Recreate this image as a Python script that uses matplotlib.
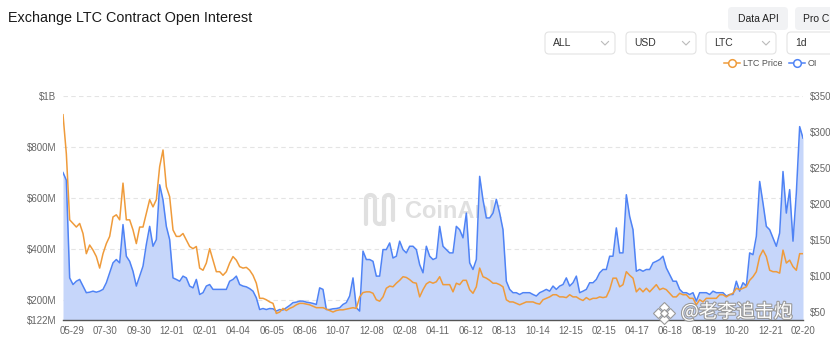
import numpy as np
import pandas as pd
import matplotlib
matplotlib.use("Agg")
import matplotlib.pyplot as plt
from matplotlib.patches import FancyBboxPatch
from matplotlib.lines import Line2D
import matplotlib.patheffects as pe

plt.rcParams['font.family'] = ['Liberation Sans', 'DejaVu Sans']

# ---------------- data ----------------
start_date = "2021-05-12"
end_date = "2025-02-20"

# Open interest, millions of USD
oi_musd = [
    700, 670, 287, 261, 274, 281, 255, 229, 231, 235, 231, 235, 242, 268, 307, 346, 359, 346, 496, 372,
    352, 313, 255, 294, 333, 418, 489, 411, 437, 652, 593, 489, 437, 287, 281, 274, 294, 287, 255, 248,
    281, 222, 229, 255, 261, 242, 242, 242, 242, 242, 274, 281, 294, 261, 255,
    252, 245, 235, 209, 163, 167, 163, 167, 166, 157, 163, 161, 170, 179, 190, 192, 196, 196, 192, 190,
    187, 183, 248, 242, 163, 163, 166, 167, 170, 183, 190, 216, 287, 170, 157, 392, 359, 359, 352, 294,
    294, 398, 398, 424, 365, 372, 431, 398, 385, 411, 411, 398, 339, 307, 411,
    372, 359, 365, 489, 411, 398, 385, 385, 489, 476, 444, 541, 346, 320, 359, 685, 593, 522, 522, 541,
    595, 541, 476, 274, 242, 229, 229, 222, 229, 229, 229, 222, 216, 229, 235, 242, 235, 255, 242, 255,
    261, 287, 255, 268, 294, 229, 235, 242, 268, 268, 281, 307, 320, 320, 372, 372,
    483, 385, 385, 613, 528, 476, 313, 320, 313, 320, 320, 346, 352, 359, 372, 326, 300, 274, 274, 242,
    229, 229, 222, 229, 196, 229, 229, 229, 222, 235, 229, 229, 229, 216, 222, 222, 274, 235, 268, 255,
    385, 378, 450, 665, 580, 489, 476, 444, 411, 463, 704, 541, 633, 431, 620, 880, 835,
]

# LTC price, USD
ltc_price = [
    324, 270, 178, 173, 168, 173, 159, 131, 143, 136, 127, 111, 131, 145, 155, 182, 185, 178, 229, 178,
    178, 164, 145, 168, 168, 187, 206, 196, 206, 252, 275, 224, 210, 164, 155, 155, 159, 150, 141, 138,
    141, 111, 108, 118, 138, 122, 106, 106, 101, 106, 118, 127, 122, 113, 111,
    112, 108, 101, 90, 69, 69, 67, 64, 62, 48, 50, 55, 52, 55, 57, 60, 62, 62, 61, 60,
    58, 56, 56, 56, 54, 52, 50, 52, 53, 53, 54, 55, 56, 55, 71, 77, 78, 78, 76, 67,
    65, 71, 83, 86, 85, 90, 94, 99, 98, 95, 91, 90, 71, 81, 89,
    92, 90, 92, 99, 88, 88, 88, 78, 90, 88, 94, 94, 81, 76, 85, 111, 99, 97, 94, 90,
    90, 88, 85, 67, 64, 64, 62, 60, 62, 64, 64, 64, 62, 61, 67, 69, 71, 74, 74, 71,
    71, 70, 74, 71, 71, 68, 66, 70, 67, 69, 69, 71, 70, 71, 81, 97,
    97, 85, 88, 106, 101, 97, 78, 83, 78, 83, 78, 83, 88, 81, 83, 81, 76, 71, 71, 76,
    74, 74, 69, 69, 60, 67, 64, 69, 69, 69, 69, 74, 74, 71, 74, 76, 83, 81, 83, 85,
    94, 99, 106, 127, 136, 127, 108, 106, 106, 104, 136, 118, 122, 113, 108, 131, 131,
]

x_tick_dates = [
    "2021-05-29", "2021-07-30", "2021-09-30", "2021-12-01", "2022-02-01", "2022-04-04",
    "2022-06-05", "2022-08-06", "2022-10-07", "2022-12-08", "2023-02-08", "2023-04-11",
    "2023-06-12", "2023-08-13", "2023-10-14", "2023-12-15", "2024-02-15", "2024-04-17",
    "2024-06-18", "2024-08-19", "2024-10-20", "2024-12-21", "2025-02-20",
]
x_tick_labels = [d[5:] for d in x_tick_dates]

left_ticks = [122, 200, 400, 600, 800, 1000]
left_labels = ["$122M", "$200M", "$400M", "$600M", "$800M", "$1B"]
right_ticks = [50, 100, 150, 200, 250, 300, 350]
right_labels = ["$50", "$100", "$150", "$200", "$250", "$300", "$350"]

dates = pd.date_range(start_date, end_date, periods=len(oi_musd))

# ---------------- styling ----------------
W, H = 830, 338
BLUE = '#4f83f5'
FILL = '#c6d6fa'
ORANGE = '#ef9b3b'
TICK = '#666666'

fig = plt.figure(figsize=(W / 100, H / 100), dpi=100)
fig.patch.set_facecolor('white')

# overlay in pixel coordinates for UI chrome
ov = fig.add_axes([0, 0, 1, 1])
ov.set_xlim(0, W)
ov.set_ylim(H, 0)
ov.axis('off')

# main chart axes
ax = fig.add_axes([63 / W, 18 / H, 740 / W, 224 / H])
ax.set_facecolor('none')
ax.fill_between(dates, oi_musd, left_ticks[0], color=FILL, lw=0, zorder=1)
ax.plot(dates, oi_musd, color=BLUE, lw=1.1, zorder=2)
ax.set_ylim(122, 1000)
ax.set_xlim(dates[0], dates[-1])
ax.set_yticks(left_ticks, left_labels)
ax.set_xticks(pd.to_datetime(x_tick_dates), x_tick_labels)
ax.tick_params(axis='both', length=0, labelsize=7, colors=TICK)
ax.tick_params(axis='y', pad=5)
ax.tick_params(axis='x', pad=4)
for s in ['top', 'left', 'right']:
    ax.spines[s].set_visible(False)
ax.spines['bottom'].set_color('#555555')
ax.spines['bottom'].set_linewidth(1.0)
ax.spines['bottom'].set_zorder(5)
ax.yaxis.grid(True, color='#e4e4e4', lw=0.8, linestyle=(0, (4, 3)), zorder=0)
ax.set_axisbelow(True)

# faint CoinAnk watermark (logo + word) under the data
t = np.linspace(0, np.pi, 20)
logo_x, logo_y = [], []
cols = [366, 375, 384, 393]
for i, cx in enumerate(cols):
    top, bot = (199, 224) if i % 2 == 0 else (203, 220)
    if i % 2 == 0:
        logo_x += [cx, cx]; logo_y += [bot, top]
        if i + 1 < len(cols):
            logo_x += list(cx + 4.5 - 4.5 * np.cos(t)); logo_y += list(top - 4 * np.sin(t))
    else:
        logo_x += [cx, cx]; logo_y += [top, bot]
        if i + 1 < len(cols):
            logo_x += list(cx + 4.5 - 4.5 * np.cos(t)); logo_y += list(bot + 4 * np.sin(t))
ax.plot(logo_x, logo_y, transform=ov.transData, color='#e0e0e0', lw=3,
        solid_capstyle='round', zorder=0.5)
ax.text(405, 211, "CoinAnk", transform=ov.transData, fontsize=17, fontweight='bold',
        color='#e0e0e0', va='center', ha='left', zorder=0.5)

ax2 = ax.twinx()
ax2.plot(dates, ltc_price, color=ORANGE, lw=1.1, zorder=3)
ax2.set_ylim(38.9, 350)
ax2.set_yticks(right_ticks, right_labels)
ax2.tick_params(axis='y', length=0, labelsize=7, colors=TICK, pad=5)
for s in ['top', 'left', 'right', 'bottom']:
    ax2.spines[s].set_visible(False)

# ---------------- header chrome ----------------
ov.text(7.5, 18, "Exchange LTC Contract Open Interest", fontsize=10.4, color='#1a1a1a',
        va='center', ha='left')

for x0, w, label, tx in [(728, 60, "Data API", 758), (795, 60, "Pro C", 803)]:
    ov.add_patch(FancyBboxPatch((x0, 7), w, 23, boxstyle="round,pad=0,rounding_size=4",
                                fc='#f1f2f4', ec='none'))
    ov.text(tx, 18.5, label, fontsize=7.5, color='#222222', va='center',
            ha='center' if label == "Data API" else 'left')

for x0, label in [(545, "ALL"), (626, "USD"), (706, "LTC"), (787, "1d")]:
    ov.add_patch(FancyBboxPatch((x0, 32), 70, 22, boxstyle="round,pad=0,rounding_size=4",
                                fc='white', ec='#e3e3e3', lw=0.8))
    ov.text(x0 + 8, 43.5, label, fontsize=7.5, color='#333333', va='center', ha='left')
    cx = x0 + 60
    ov.add_line(Line2D([cx - 3.5, cx, cx + 3.5], [41.5, 45, 41.5], color='#bbbbbb', lw=0.8))

# legend
for x0, color, label in [(724, ORANGE, "LTC Price"), (789, BLUE, "OI")]:
    ov.add_line(Line2D([x0, x0 + 16], [63, 63], color=color, lw=1.1))
    ov.plot([x0 + 8], [63], marker='o', ms=5.5, mfc='white', mec=color, mew=1.1)
    ov.text(x0 + 19, 63, label, fontsize=6.5, color='#555555', va='center', ha='left')

# foreground watermark (diamond logo + handle)
wm = fig.add_axes([0, 0, 1, 1], zorder=10)
wm.set_xlim(0, W)
wm.set_ylim(H, 0)
wm.axis('off')
stroke = [pe.withStroke(linewidth=1.6, foreground='#9a9a9a')]
for dx, dy, s in [(0, -6, 5), (-6, 0, 5), (6, 0, 5), (0, 6, 5), (0, 0, 4)]:
    wm.plot([664 + dx], [313 + dy], marker='D', ms=s, mfc='white', mec='#9a9a9a', mew=0.8)
wm.text(681, 312, "@老李追击炮", fontsize=13.5, color='white',
        family=['Noto Sans CJK SC', 'DejaVu Sans'], va='center', ha='left',
        path_effects=stroke)

fig.savefig("out.png", dpi=100)
